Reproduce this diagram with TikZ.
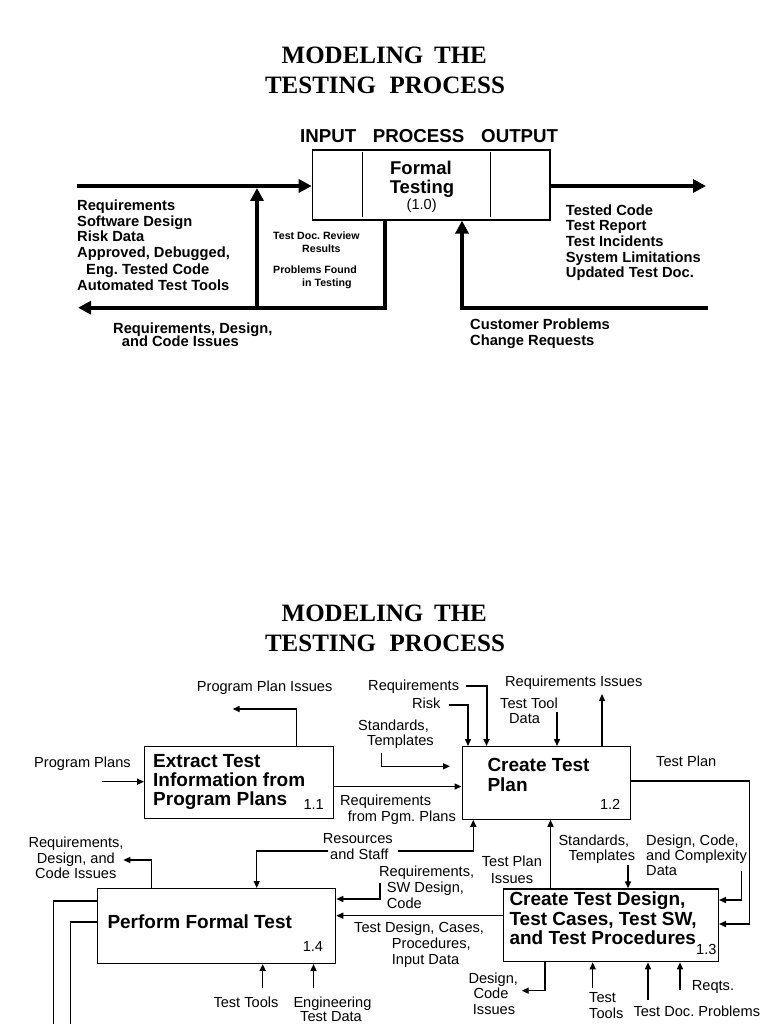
\documentclass[tikz,border=0pt]{standalone}
\usepackage{fontspec}
\usetikzlibrary{arrows.meta}
\newfontfamily\labfont{Liberation Sans}
\newfontfamily\ttlfont{Liberation Serif}
\frenchspacing
\tikzset{
  lb/.style={inner sep=0pt, font=\labfont\fontsize{14.6}{17}\selectfont},
  bb/.style={inner sep=0pt, font=\labfont\bfseries\fontsize{19}{21}\selectfont},
  tb/.style={inner sep=0pt, font=\labfont\bfseries\fontsize{14.7}{17}\selectfont},
  ts/.style={inner sep=0pt, font=\labfont\bfseries\fontsize{10.6}{12}\selectfont},
  hb/.style={inner sep=0pt, font=\labfont\bfseries\fontsize{18.7}{21}\selectfont},
  ttl/.style={inner sep=0pt, font=\ttlfont\bfseries\fontsize{25}{30}\selectfont},
  pbox/.style={draw, line width=1.3pt, inner sep=0pt, anchor=north west},
  barr/.style={line width=1.4pt, -{Triangle[length=7pt,width=6pt]}},
  bline/.style={line width=1.4pt},
  tarr/.style={line width=4pt, -{Triangle[length=13pt,width=13pt]}},
  tline/.style={line width=4pt},
}
\begin{document}
\begin{tikzpicture}[x=1pt,y=-1pt]
\fill[white] (0,0) rectangle (768,1024);
\useasboundingbox (0,0) rectangle (768,1024);

% ================= TOP DIAGRAM =================
\node[ttl, anchor=base] (t1a) at (384.3,63.3) {MODELING\hspace{0.43em}THE};
\node[ttl, anchor=base] (t1b) at (385,93.3) {TESTING\hspace{0.54em}PROCESS};

\node[hb, anchor=base west] (hin) at (300,142.7) {INPUT};
\node[hb, anchor=base west] (hpr) at (372.7,142.7) {PROCESS};
\node[hb, anchor=base west] (hout) at (481,142.7) {OUTPUT};

\node[pbox, minimum width=237.6pt, minimum height=70pt] (ft) at (311.7,149.3) {};
\draw[line width=1.1pt] (362.7,151.7) -- (362.7,216.7);
\draw[line width=1.1pt] (490.7,151.7) -- (490.7,216.7);
\node[inner sep=0pt, font=\labfont\bfseries\fontsize{18.5}{20}\selectfont, anchor=base] (ftx1) at (421,175) {Formal};
\node[inner sep=0pt, font=\labfont\bfseries\fontsize{18.5}{20}\selectfont, anchor=base] (ftx2) at (422,194) {Testing};
\node[lb, anchor=base] (ftx3) at (421.7,210) {(1.0)};

% connectors
\coordinate (inS) at (77,186);
\draw[tarr] (inS) -- (inS -| ft.west);
\draw[tline] (385,0 |- ft.south) -- (385,307.7) -- (86,307.7);
\coordinate (retL) at (78,307.7);
\draw[tarr] (90,307.7) -- (retL);
\draw[tarr] (257,309.7) -- (257,188);
\coordinate (outE) at (706,186);
\draw[tarr] (ft.east |- outE) -- (outE);
\coordinate (custS) at (708,307.7);
\draw[tarr] (custS) -- (462,307.7) -- (462,0 |- ft.south);

% labels
\node[tb, anchor=base west] (il1) at (77,210.7) {Requirements};
\node[tb, anchor=base west] (il2) at (77,226) {Software Design};
\node[tb, anchor=base west] (il3) at (77,241.7) {Risk Data};
\node[tb, anchor=base west] (il4) at (77,257.7) {Approved, Debugged,};
\node[tb, anchor=base west] (il5) at (86,274) {Eng. Tested Code};
\node[tb, anchor=base west] (il6) at (77,290) {Automated Test Tools};

\node[ts, anchor=base west] (fb1) at (273,240) {Test Doc. Review};
\node[ts, anchor=base west] (fb2) at (302,252.7) {Results};
\node[ts, anchor=base west] (fb3) at (273,273) {Problems Found};
\node[ts, anchor=base west] (fb4) at (302,286.7) {in Testing};

\node[tb, anchor=base west] (ri1) at (113,333.3) {Requirements, Design,};
\node[tb, anchor=base west] (ri2) at (121.7,346.7) {and Code Issues};

\node[tb, anchor=base west] (ol1) at (565.7,215) {Tested Code};
\node[tb, anchor=base west] (ol2) at (565.7,230.7) {Test Report};
\node[tb, anchor=base west] (ol3) at (565.7,246.3) {Test Incidents};
\node[tb, anchor=base west] (ol4) at (565.7,262) {System Limitations};
\node[tb, anchor=base west] (ol5) at (565.7,277.7) {Updated Test Doc.};

\node[tb, anchor=base west] (cp1) at (470,329.3) {Customer Problems};
\node[tb, anchor=base west] (cp2) at (470,345.7) {Change Requests};

% ================= BOTTOM DIAGRAM =================
\node[ttl, anchor=base] (t2a) at (384.3,621.7) {MODELING\hspace{0.43em}THE};
\node[ttl, anchor=base] (t2b) at (385,651.7) {TESTING\hspace{0.54em}PROCESS};

% boxes
\node[pbox, minimum width=189pt, minimum height=72pt] (b11) at (144,746) {};
\node[pbox, minimum width=168.5pt, minimum height=72.5pt] (b12) at (461.5,746) {};
\node[pbox, minimum width=215pt, minimum height=72.7pt] (b13) at (502.7,888.3) {};
\node[pbox, minimum width=238.3pt, minimum height=74.7pt] (b14) at (96.7,888) {};

% box texts
\node[bb, anchor=base west] (b11a) at (153,767.3) {Extract Test};
\node[bb, anchor=base west] (b11b) at (153,786.7) {Information from};
\node[bb, anchor=base west] (b11c) at (153,805) {Program Plans};
\node[lb, anchor=base east] (b11n) at (324,809.3) {1.1};

\node[bb, anchor=base west] (b12a) at (487.3,771.7) {Create Test};
\node[bb, anchor=base west] (b12b) at (487.3,791.7) {Plan};
\node[lb, anchor=base east] (b12n) at (620.5,809) {1.2};

\node[bb, anchor=base west] (b13a) at (509.3,905) {Create Test Design,};
\node[bb, anchor=base west] (b13b) at (509.3,925) {Test Cases, Test SW,};
\node[bb, anchor=base west] (b13c) at (509.3,944.3) {and Test Procedures};
\node[lb, anchor=base east] (b13n) at (716.7,954) {1.3};

\node[bb, anchor=base west] (b14a) at (107.3,928.3) {Perform Formal Test};
\node[lb, anchor=base east] (b14n) at (323.3,951) {1.4};

% connectors
\coordinate (ppS) at (102,781.7);
\draw[barr] (ppS) -- (ppS -| b11.west);

\coordinate (ppiE) at (232.7,709);
\draw[barr] (296.5,0 |- b11.north) -- (296.5,709) -- (ppiE);

\coordinate (rpp) at (0,786.5);
\draw[barr] (b11.east |- rpp) -- (b12.west |- rpp);

\coordinate (reqS) at (466,686);
\draw[barr, line width=2pt] (reqS) -- (486.5,686) -- (486.5,0 |- b12.north);

\coordinate (riskS) at (449,705);
\draw[barr] (riskS) -- (468,705) -- (468,0 |- b12.north);

\coordinate (stE) at (450,766.3);
\draw[barr] (381.7,752.7) -- (381.7,766.3) -- (stE);

\coordinate (ttdS) at (557,712);
\draw[barr] (ttdS) -- (ttdS |- b12.north);

\coordinate (riE) at (602,694);
\draw[barr] (riE |- b12.north) -- (riE);

\coordinate (tp1) at (0,781);
\coordinate (tp2) at (0,924);
\draw[barr] (b12.east |- tp1) -- (749.3,781) -- (749.3,924) -- (b13.east |- tp2);

\coordinate (dcS) at (741.7,871);
\coordinate (dc2) at (0,900);
\draw[barr] (dcS) -- (741.7,900) -- (b13.east |- dc2);

\coordinate (st2S) at (628,865);
\draw[barr] (st2S) -- (st2S |- b13.north);

\coordinate (tpi) at (550.5,0);
\draw[barr] (tpi |- b13.north) -- (tpi |- b12.south);

\coordinate (rsR) at (398,851);
\draw[barr] (rsR) -- (473.3,851) -- (473.3,0 |- b12.south);
\coordinate (rsL) at (328,851);
\draw[barr] (rsL) -- (256.7,851) -- (256.7,0 |- b14.north);

\coordinate (rswS) at (380,883);
\coordinate (rsw2) at (0,899);
\draw[barr] (rswS) -- (380,899) -- (b14.east |- rsw2);

\coordinate (tdc) at (0,915.7);
\draw[barr] (b13.west |- tdc) -- (b14.east |- tdc);

\coordinate (dciE) at (521.7,990.7);
\draw[barr] (545,0 |- b13.south) -- (545,990.7) -- (dciE);

\coordinate (tt3S) at (592.7,988);
\draw[barr] (tt3S) -- (tt3S |- b13.south);
\coordinate (tdpS) at (648,1000);
\draw[barr] (tdpS) -- (tdpS |- b13.south);
\coordinate (rqS) at (680,990);
\draw[barr] (rqS) -- (rqS |- b13.south);

\coordinate (tt4S) at (262.7,988);
\draw[barr] (tt4S) -- (tt4S |- b14.south);
\coordinate (etdS) at (313.5,988);
\draw[barr] (etdS) -- (etdS |- b14.south);

\coordinate (lciE) at (123.3,860);
\draw[barr] (151.7,0 |- b14.north) -- (151.7,860) -- (lciE);

\coordinate (lo1) at (0,901);
\coordinate (lo2) at (0,922);
\draw[bline] (b14.west |- lo1) -- (53.3,901) -- (53.3,1030);
\draw[bline] (b14.west |- lo2) -- (70.7,922) -- (70.7,1030);

% bottom labels
\node[lb, anchor=base west] (x01) at (196.7,691.7) {Program Plan Issues};
\node[lb, anchor=base east] (x02) at (459.3,690) {Requirements};
\node[lb, anchor=base east] (x03) at (440.7,708) {Risk};
\node[lb, anchor=base west] (x04) at (358,730) {Standards,};
\node[lb, anchor=base west] (x05) at (367,745) {Templates};
\node[lb, anchor=base west] (x06) at (34,767.3) {Program Plans};
\node[lb, anchor=base west] (x07) at (340,805.7) {Requirements};
\node[lb, anchor=base west] (x08) at (347.7,821.7) {from Pgm. Plans};
\node[lb, anchor=base west] (x09) at (500,708.3) {Test Tool};
\node[lb, anchor=base west] (x10) at (509,723.3) {Data};
\node[lb, anchor=base west] (x11) at (505,686) {Requirements Issues};
\node[lb, anchor=base west] (x12) at (656,766.7) {Test Plan};
\node[lb, anchor=base west] (x13) at (322.7,843.3) {Resources};
\node[lb, anchor=base west] (x14) at (330,859.3) {and Staff};
\node[lb, anchor=base west] (x15) at (28.3,847.3) {Requirements,};
\node[lb, anchor=base west] (x16) at (36.7,863.3) {Design, and};
\node[lb, anchor=base west] (x17) at (35,878.3) {Code Issues};
\node[lb, anchor=base west] (x18) at (379,876.7) {Requirements,};
\node[lb, anchor=base west] (x19) at (386.7,892.7) {SW Design,};
\node[lb, anchor=base west] (x20) at (386.7,908.3) {Code};
\node[lb, anchor=base west] (x21) at (481.7,866.7) {Test Plan};
\node[lb, anchor=base west] (x22) at (490.7,883.3) {Issues};
\node[lb, anchor=base west] (x23) at (558.3,845) {Standards,};
\node[lb, anchor=base west] (x24) at (568.3,860) {Templates};
\node[lb, anchor=base west] (x25) at (646,845) {Design, Code,};
\node[lb, anchor=base west] (x26) at (646,860) {and Complexity};
\node[lb, anchor=base west] (x27) at (646,875) {Data};
\node[lb, anchor=base west] (x28) at (354,932.7) {Test Design, Cases,};
\node[lb, anchor=base west] (x29) at (391.7,948.3) {Procedures,};
\node[lb, anchor=base west] (x30) at (391.7,964) {Input Data};
\node[lb, anchor=base west] (x31) at (468.3,983.3) {Design,};
\node[lb, anchor=base west] (x32) at (473.3,998.3) {Code};
\node[lb, anchor=base west] (x33) at (472.7,1014.3) {Issues};
\node[lb, anchor=base west] (x34) at (589,1002.7) {Test};
\node[lb, anchor=base west] (x35) at (589,1018.3) {Tools};
\node[lb, anchor=base west] (x36) at (633.3,1016) {Test Doc. Problems};
\node[lb, anchor=base west] (x37) at (691.7,990) {Reqts.};
\node[lb, anchor=base west] (x38) at (213.3,1007.3) {Test Tools};
\node[lb, anchor=base west] (x39) at (293.3,1007.3) {Engineering};
\node[lb, anchor=base west] (x40) at (300,1021.7) {Test Data};
\end{tikzpicture}
\end{document}
